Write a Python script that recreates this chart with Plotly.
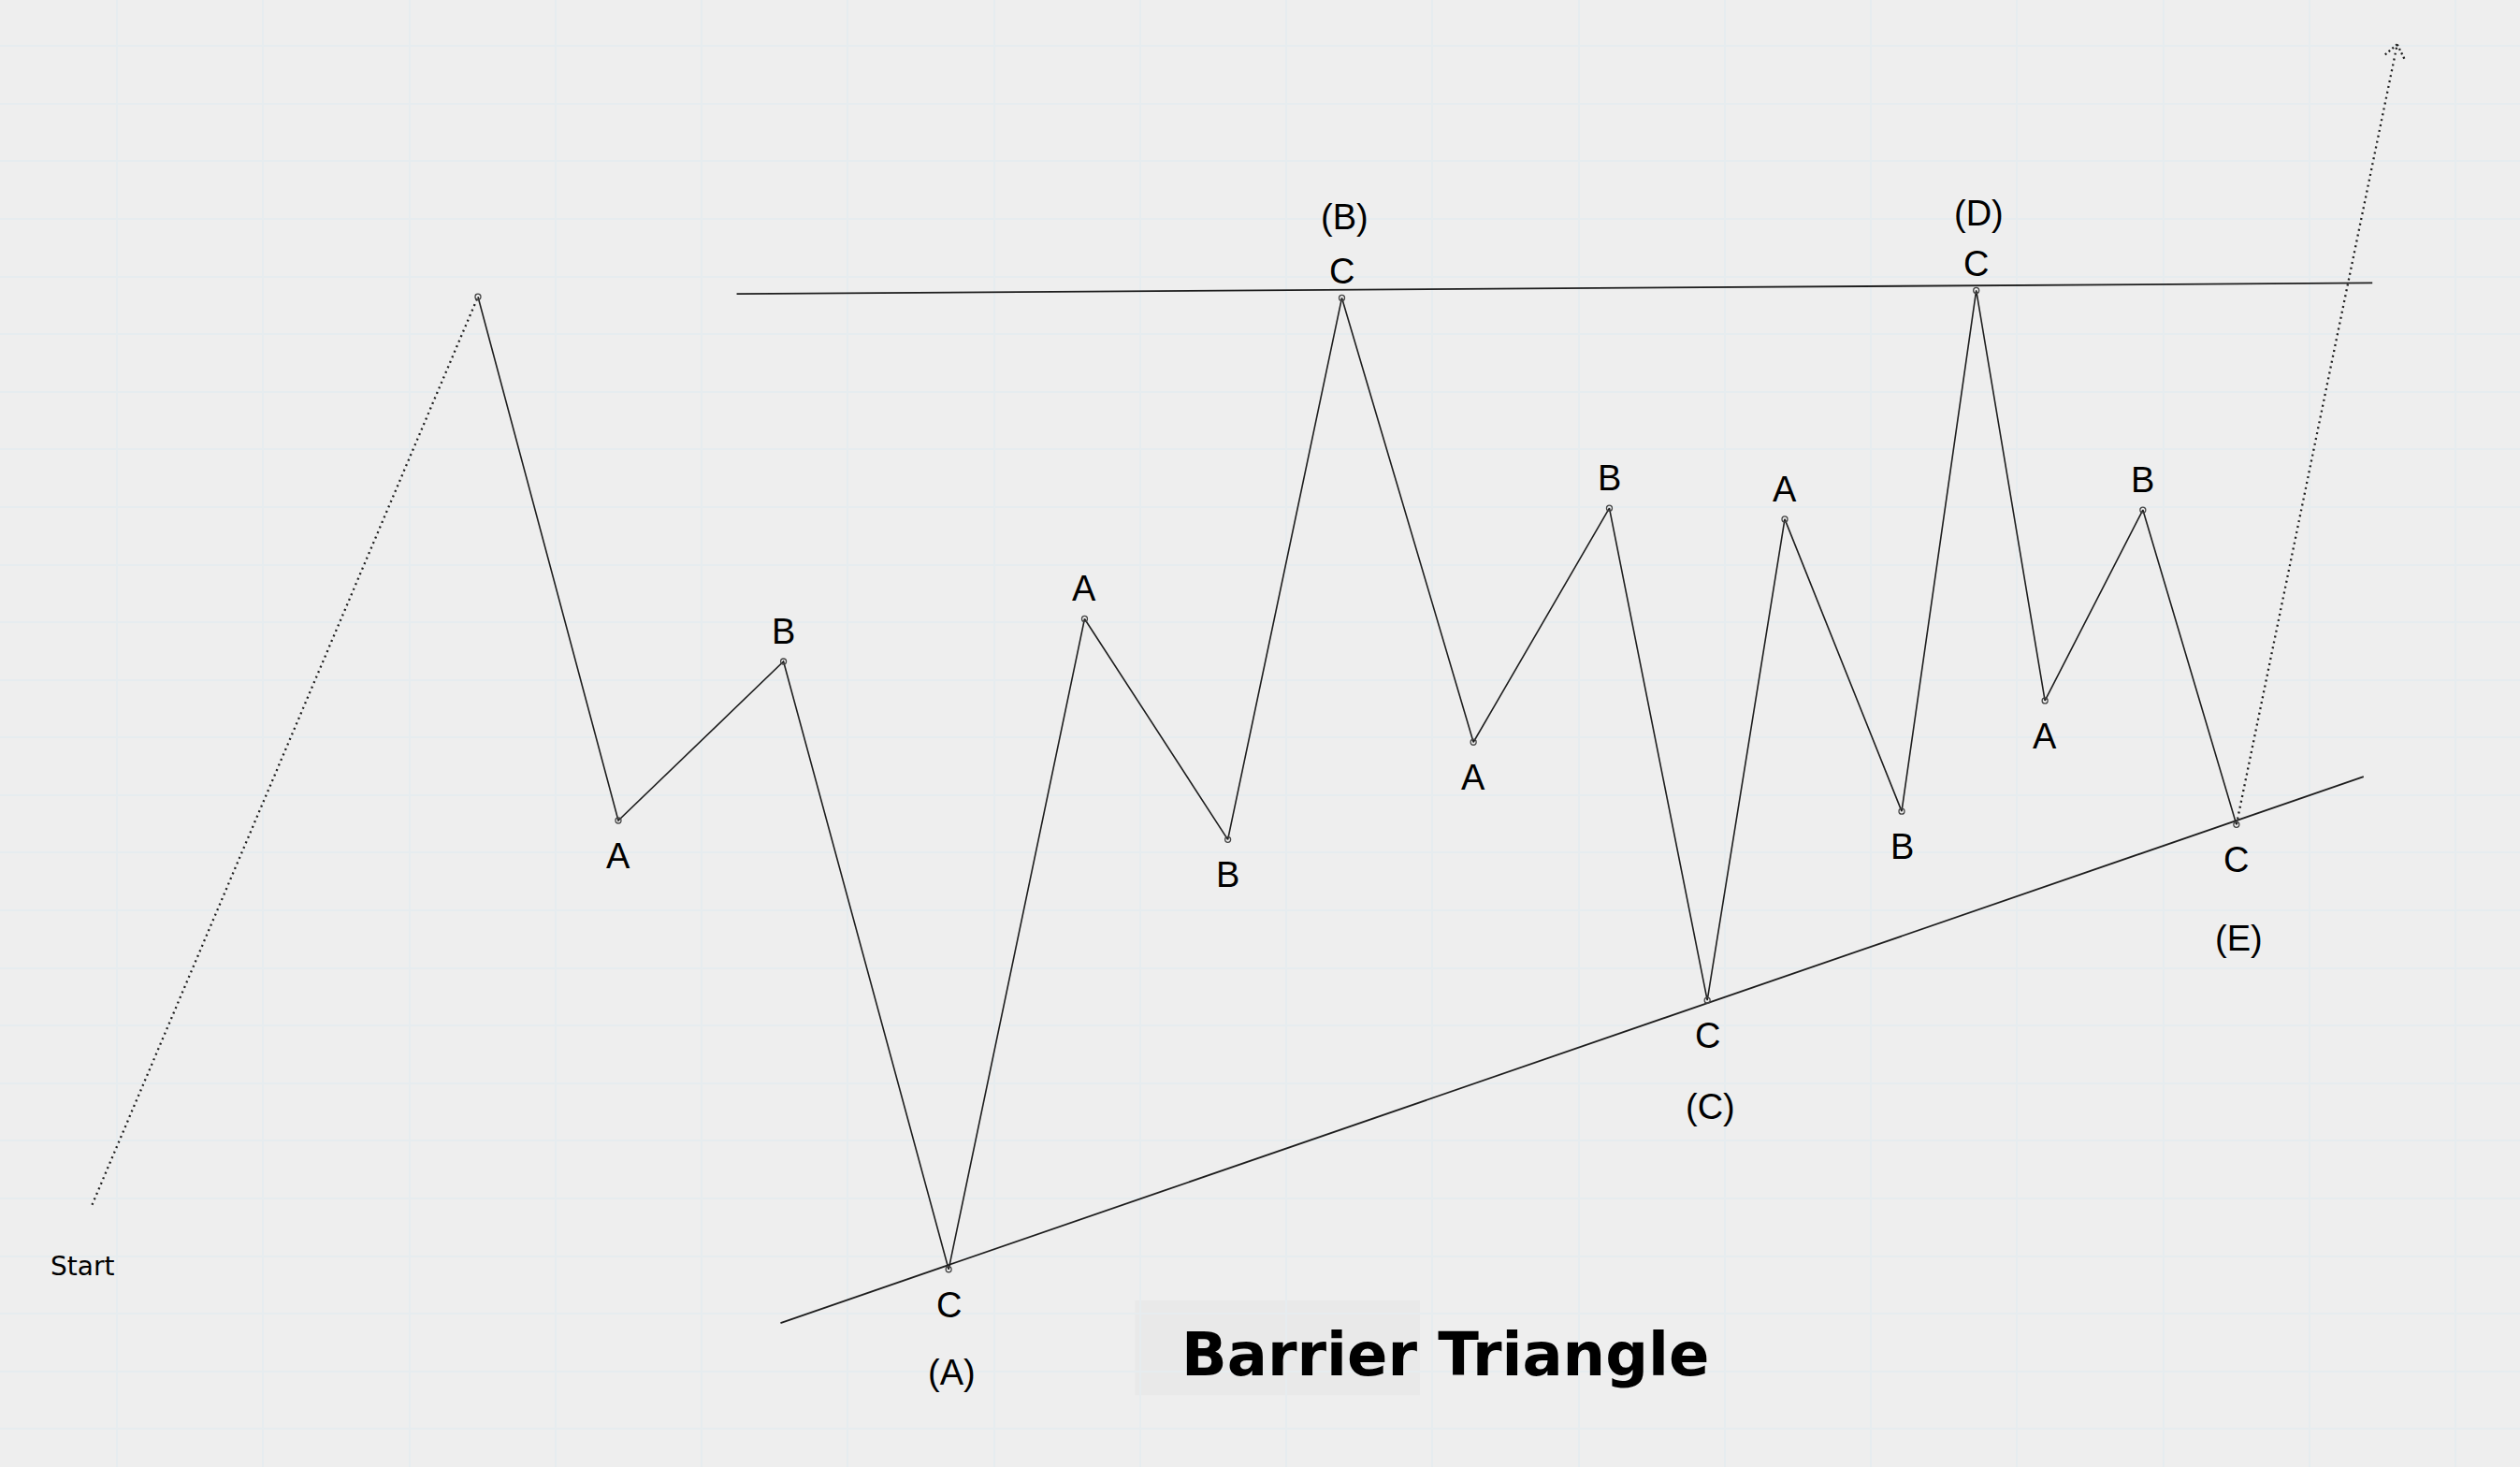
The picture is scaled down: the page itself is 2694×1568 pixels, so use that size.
import math
import plotly.graph_objects as go

# pivots of the barrier triangle, x in bars, y in price units
lead_x = [0.83, 3.47]
lead_y = [3.89, 19.65]

wave_x = [3.47, 4.43, 5.56, 6.69, 7.62, 8.60, 9.38, 10.28, 11.21, 11.88,
          12.41, 13.21, 13.72, 14.19, 14.86, 15.50]
wave_y = [19.65, 10.56, 13.32, 2.77, 14.06, 10.23, 19.63, 11.92, 15.98, 7.44,
          15.79, 10.72, 19.76, 12.64, 15.95, 10.49]
wave_labels = ["", "A", "B", "C", "A", "B", "C", "A", "B", "C",
               "A", "B", "C", "A", "B", "C"]
wave_side = ["", "below", "above", "below", "above", "below", "above", "below", "above", "below",
             "above", "below", "above", "below", "above", "below"]
degree_labels = {3: "(A)", 6: "(B)", 9: "(C)", 12: "(D)", 15: "(E)"}

breakout_x = [15.50, 16.60]
breakout_y = [10.49, 24.03]

upper_x = [5.24, 16.43]
upper_y = [19.70, 19.89]
lower_x = [5.54, 16.37]
lower_y = [1.84, 11.32]

W, H = 2694, 1568
x_range = [0.20, 17.44]
y_range = [-0.66, 24.80]
sx = W / (x_range[1] - x_range[0])
sy = H / (y_range[1] - y_range[0])

line_col = "#1e1e1e"
dots = "2px,4px"

fig = go.Figure()

# triangle boundaries
for bx, by in [(upper_x, upper_y), (lower_x, lower_y)]:
    fig.add_trace(go.Scatter(x=bx, y=by, mode="lines",
                             line=dict(color=line_col, width=1.8), hoverinfo="skip"))

# dotted lead-in and breakout
fig.add_trace(go.Scatter(x=lead_x, y=lead_y, mode="lines",
                         line=dict(color=line_col, width=2.3, dash=dots), hoverinfo="skip"))
fig.add_trace(go.Scatter(x=breakout_x, y=breakout_y, mode="lines",
                         line=dict(color=line_col, width=2.3, dash=dots), hoverinfo="skip"))

# arrow head on the breakout, built from the last segment direction
dxp = (breakout_x[1] - breakout_x[0]) * sx
dyp = (breakout_y[1] - breakout_y[0]) * sy
n = math.hypot(dxp, dyp)
bxp, byp = -dxp / n, -dyp / n
head_x, head_y = [], []
for ang in (38, -38):
    a = math.radians(ang)
    rx = bxp * math.cos(a) - byp * math.sin(a)
    ry = bxp * math.sin(a) + byp * math.cos(a)
    head_x += [breakout_x[1], breakout_x[1] + rx * 20 / sx, None]
    head_y += [breakout_y[1], breakout_y[1] + ry * 20 / sy, None]
fig.add_trace(go.Scatter(x=head_x, y=head_y, mode="lines",
                         line=dict(color=line_col, width=2.3, dash="2px,3px"), hoverinfo="skip"))

# the wave itself
fig.add_trace(go.Scatter(x=wave_x, y=wave_y, mode="lines+markers",
                         line=dict(color=line_col, width=1.6),
                         marker=dict(symbol="circle-open", size=6, color="#444",
                                     line=dict(width=1.3)),
                         hoverinfo="skip"))

lab_font = dict(family="Liberation Sans, Arial, sans-serif", size=38, color="black")
for i, (x, y, t, s) in enumerate(zip(wave_x, wave_y, wave_labels, wave_side)):
    if not t:
        continue
    if s == "above":
        shift = 28 if i in degree_labels else 32
    else:
        shift = -38
    fig.add_annotation(x=x, y=y, text=t, showarrow=False, yshift=shift, font=lab_font)
    if i in degree_labels:
        far = {3: -110, 6: 86, 9: -114, 12: 82, 15: -122}[i]
        fig.add_annotation(x=x, y=y, text=degree_labels[i], showarrow=False,
                           yshift=far, xshift=3, font=lab_font)

fig.add_annotation(x=lead_x[0], y=lead_y[0], text="Start", showarrow=False,
                   xshift=-10, yshift=-66,
                   font=dict(family="DejaVu Sans, Verdana, sans-serif", size=28, color="black"))

fig.add_shape(type="rect", xref="paper", yref="paper", x0=0.4503, x1=0.5635,
              y0=0.049, y1=0.1135, fillcolor="#e9e9e9", line=dict(width=0), layer="below")
fig.add_annotation(xref="paper", yref="paper", x=0.5735, y=0.0515, text="<b>Barrier Triangle</b>",
                   showarrow=False,
                   font=dict(family="DejaVu Sans, Verdana, sans-serif", size=64, color="black"))

fig.update_xaxes(range=x_range, dtick=1, tick0=0, showgrid=True, gridcolor="#e6ecef",
                 gridwidth=1.5, zeroline=False, showticklabels=False, ticks="")
fig.update_yaxes(range=y_range, dtick=1, tick0=0, showgrid=True, gridcolor="#e6ecef",
                 gridwidth=1.5, zeroline=False, showticklabels=False, ticks="")
fig.update_layout(width=W, height=H, margin=dict(l=0, r=0, t=0, b=0),
                  paper_bgcolor="#eeeeee", plot_bgcolor="#eeeeee", showlegend=False)

fig.write_html("out.html", config={"displayModeBar": False},
               post_script="document.body.style.margin='0';")
